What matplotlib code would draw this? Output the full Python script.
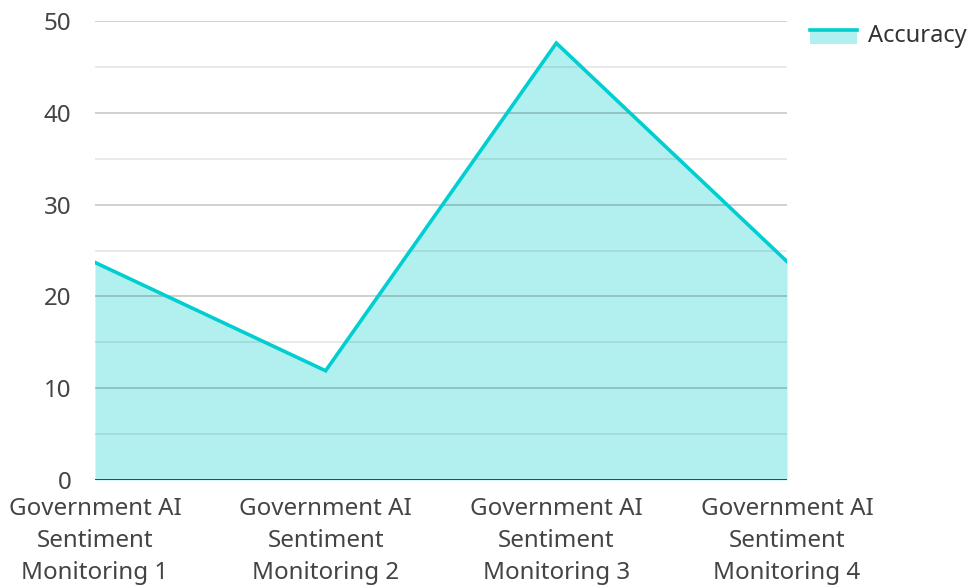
import matplotlib
matplotlib.use("Agg")
import matplotlib.pyplot as plt
from matplotlib.patches import Rectangle
from matplotlib.lines import Line2D
from matplotlib.legend_handler import HandlerBase

plt.rcParams['font.family'] = ['Noto Sans', 'DejaVu Sans']

categories = ["Government AI\nSentiment\nMonitoring 1",
              "Government AI\nSentiment\nMonitoring 2",
              "Government AI\nSentiment\nMonitoring 3",
              "Government AI\nSentiment\nMonitoring 4"]
accuracy = [23.7, 11.9, 47.6, 23.8]
series_name = "Accuracy"

line_color = "#00CED1"
fill_color = "#b2f0f0"


class AreaHandler(HandlerBase):
    # line on top, filled band below it
    def create_artists(self, legend, orig, xd, yd, w, h, fontsize, trans):
        top = yd + h * 0.75
        rect = Rectangle((xd, yd - h * 0.1), w, top - (yd - h * 0.1),
                         facecolor=fill_color, edgecolor='none', transform=trans)
        ln = Line2D([xd, xd + w], [top, top], color=line_color, lw=2.6,
                    transform=trans)
        return [rect, ln]


fig = plt.figure(figsize=(9.74, 5.85), dpi=100)
ax = fig.add_axes([0.0975, 0.1795, 0.7105, 0.7845])

x = list(range(len(categories)))
ax.fill_between(x, 0, accuracy, color=fill_color, zorder=1, lw=0)
ax.plot(x, accuracy, color=line_color, lw=2.6, zorder=4, solid_joinstyle='miter')

# grid lines (drawn over the fill, semi-transparent)
for v in range(5, 51, 5):
    if v % 10 == 0:
        ax.axhline(v, color="#000000", alpha=0.2, lw=1.3, zorder=2)
    else:
        ax.axhline(v, color="#000000", alpha=0.09, lw=1.3, zorder=2)
ax.axhline(0, color="#333333", lw=2, zorder=5)

ax.set_xlim(0, len(categories) - 1)
ax.set_ylim(0, 50)
ax.set_yticks(range(0, 51, 10))
ax.set_xticks(x)
ax.set_xticklabels(categories, linespacing=1.45)
for s in ax.spines.values():
    s.set_visible(False)
ax.tick_params(axis='both', length=0, labelsize=17.4, labelcolor="#444444")
ax.tick_params(axis='y', pad=17)
ax.tick_params(axis='x', pad=12)

leg = fig.legend([object()], [series_name], loc='upper left',
                 bbox_to_anchor=(0.81, 0.995), frameon=False, fontsize=17,
                 handlelength=2.0, handletextpad=0.45,
                 handler_map={object: AreaHandler()})
for t in leg.get_texts():
    t.set_color("#333333")

fig.savefig("out.png", dpi=100)
